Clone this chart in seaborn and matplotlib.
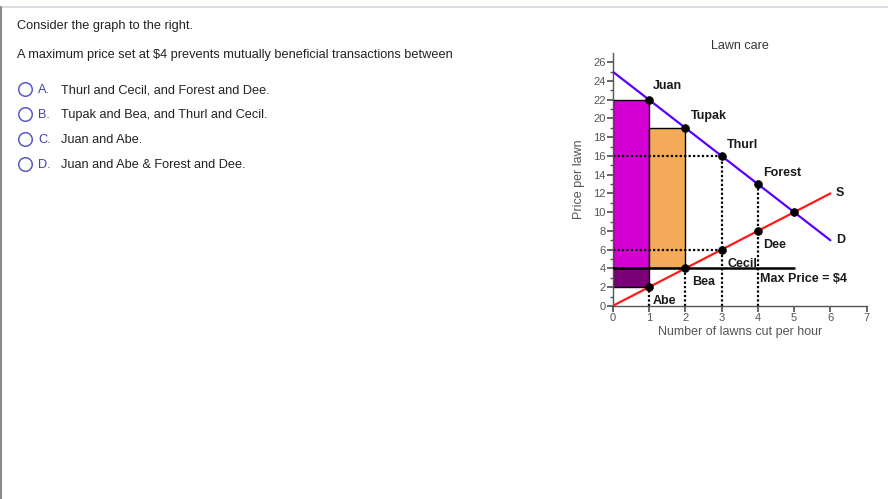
#!/usr/bin/env python3

import numpy as np
import pandas as pd
import matplotlib
matplotlib.use('Agg')
import matplotlib.pyplot as plt
import seaborn as sns

# demand side (buyers) and supply side (sellers), lawns 1..4
buyers = ['Juan', 'Tupak', 'Thurl', 'Forest']
buyer_q = [1, 2, 3, 4]
buyer_p = [22, 19, 16, 13]
sellers = ['Abe', 'Bea', 'Cecil', 'Dee']
seller_q = [1, 2, 3, 4]
seller_p = [2, 4, 6, 8]

demand_q = [0, 6]
demand_p = [25, 7]
supply_q = [0, 6]
supply_p = [0, 12]
eq_q = [5]
eq_p = [10]
max_price = 4

question = 'Consider the graph to the right.'
prompt = 'A maximum price set at $4 prevents mutually beneficial transactions between'
options = ['A.', 'B.', 'C.', 'D.']
answers = ['Thurl and Cecil, and Forest and Dee.',
           'Tupak and Bea, and Thurl and Cecil.',
           'Juan and Abe.',
           'Juan and Abe & Forest and Dee.']

sns.set_theme(style='white')
plt.rcParams['font.family'] = ['Liberation Sans', 'DejaVu Sans']

fig = plt.figure(figsize=(8.88, 4.99), dpi=100)

# page overlay in pixel coordinates
page = fig.add_axes([0, 0, 1, 1])
page.set_xlim(0, 888)
page.set_ylim(499, 0)
page.axis('off')
page.plot([0, 888], [7, 7], color='#d4d4dc', lw=1.2)
page.plot([0.5, 0.5], [7, 499], color='#8a8a8a', lw=1.5)
page.text(17, 26, question, fontsize=9.2, color='#222222', va='center')
page.text(17, 55, prompt, fontsize=9.2, color='#222222', va='center')
for i, (opt, ans) in enumerate(zip(options, answers)):
    yy = 89 + 25 * i
    page.scatter([25], [yy], s=95, facecolor='white', edgecolor='#5a5ac8', lw=1.1)
    page.text(38, yy + 1, opt, fontsize=9.2, color='#4040b0', va='center')
    page.text(61, yy + 1, ans, fontsize=9.2, color='#222222', va='center')

ax = fig.add_axes([0.690, 0.387, 0.286, 0.507])
ax.patch.set_alpha(0)

# surplus boxes
ax.bar([0.5], [22 - max_price], bottom=[max_price], width=1, color='#d400d4',
       edgecolor='black', lw=1, zorder=1)
ax.bar([0.5], [max_price - seller_p[0]], bottom=[seller_p[0]], width=1,
       color='#7a0078', edgecolor='black', lw=1, zorder=1)
ax.bar([1.5], [buyer_p[1] - max_price], bottom=[max_price], width=1,
       color='#f5aa5a', edgecolor='black', lw=1, zorder=1)

# dotted guides
dot = dict(color='black', ls=(0, (1, 1)), lw=1.6, zorder=2)
ax.plot([0, buyer_q[2]], [buyer_p[2]] * 2, **dot)
ax.plot([0, seller_q[2]], [seller_p[2]] * 2, **dot)
for q, p in zip(buyer_q[2:], buyer_p[2:]):
    ax.plot([q, q], [0, p], **dot)
for q, p in zip(seller_q[:2], seller_p[:2]):
    ax.plot([q, q], [0, p], **dot)

# curves
sns.lineplot(x=demand_q, y=demand_p, color='#5a00ff', lw=1.6, ax=ax, zorder=3)
sns.lineplot(x=supply_q, y=supply_p, color='#ff1a1a', lw=1.6, ax=ax, zorder=3)
ax.plot([0, 5], [max_price, max_price], color='black', lw=1.8, zorder=3)

pts = pd.DataFrame({'q': buyer_q + seller_q + eq_q, 'p': buyer_p + seller_p + eq_p})
sns.scatterplot(data=pts, x='q', y='p', color='black', s=32, ax=ax, zorder=5,
                edgecolor='black')

lab = dict(fontsize=9, color='#1a1a1a', weight='bold', zorder=6)
offs = {'Juan': (0.12, 1.5), 'Tupak': (0.15, 1.3), 'Thurl': (0.15, 1.2),
        'Forest': (0.15, 1.2), 'Abe': (0.1, -1.5), 'Bea': (0.2, -1.5),
        'Cecil': (0.15, -1.5), 'Dee': (0.15, -1.5)}
for n, q, p in zip(buyers + sellers, buyer_q + seller_q, buyer_p + seller_p):
    dx, dy = offs[n]
    ax.text(q + dx, p + dy, n, va='center', **lab)
ax.text(demand_q[1] + 0.15, demand_p[1], 'D', va='center', **lab)
ax.text(supply_q[1] + 0.15, supply_p[1], 'S', va='center', **lab)
ax.text(4.05, 2.9, 'Max Price = $4', va='center', **lab)

ax.set_xlim(0, 7)
ax.set_ylim(0, 27)
ax.set_xticks(range(0, 8))
ax.set_yticks(range(0, 27, 2))
ax.set_yticks(range(0, 27), minor=True)
for s in ['top', 'right']:
    ax.spines[s].set_visible(False)
for s in ['left', 'bottom']:
    ax.spines[s].set_color('#555555')
    ax.spines[s].set_linewidth(1)
ax.tick_params(which='both', direction='out', color='#555555', labelcolor='#555555',
               labelsize=8, left=True, bottom=True, pad=1)
ax.tick_params(which='major', length=4)
ax.tick_params(which='minor', length=2.5)
ax.set_title('Lawn care', fontsize=9, color='#333333', pad=3)
ax.set_xlabel('Number of lawns cut per hour', fontsize=9, color='#555555', labelpad=2)
ax.set_ylabel('Price per lawn', fontsize=9, color='#555555', labelpad=6)

fig.savefig('out.png', dpi=100)
